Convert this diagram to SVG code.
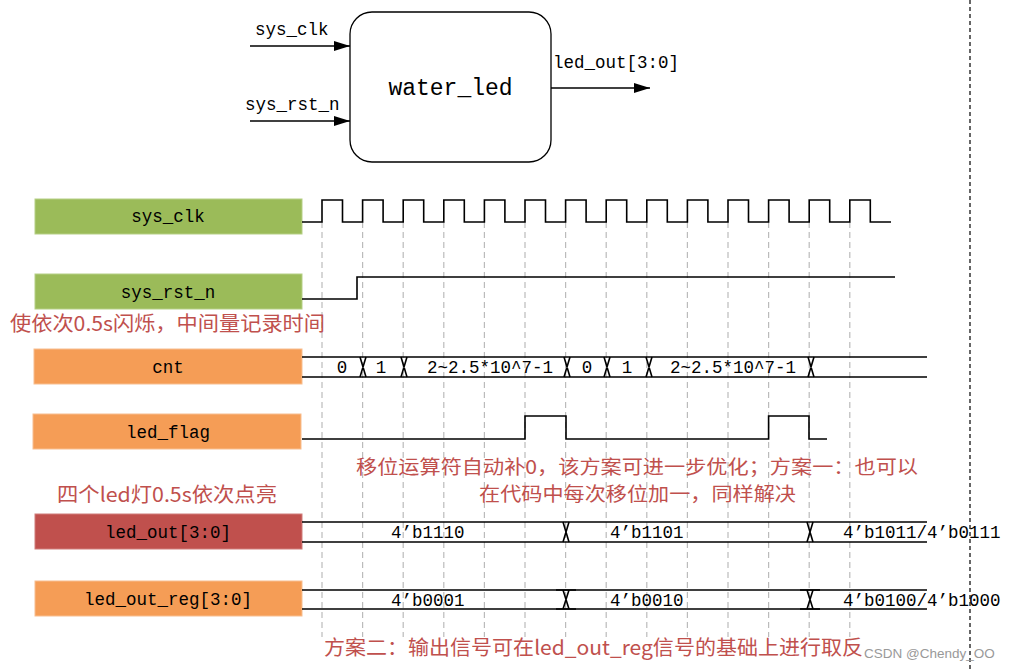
<svg xmlns="http://www.w3.org/2000/svg" width="1033" height="671" viewBox="0 0 1033 671">
<style>
.mono{font-family:"Liberation Mono","DejaVu Sans Mono",monospace;font-size:17.5px;fill:#000}
.cn{font-family:"Noto Sans CJK SC","Liberation Sans",sans-serif;font-size:20px;fill:#C0504D}
.wave{fill:none;stroke:#000;stroke-width:1.6}
.grid{stroke:#bbb;stroke-width:1.2;stroke-dasharray:6 4}
.green{fill:#9BBB59;stroke:#B5CF85;stroke-width:1}
.orange{fill:#F59D56;stroke:#F8BE8F;stroke-width:1}
.red{fill:#C0504D;stroke:#D07C7A;stroke-width:1}
</style>
<defs>
<marker id="arr" markerWidth="16" markerHeight="10" refX="16" refY="5" orient="auto" markerUnits="userSpaceOnUse">
<path d="M0,0 L16,5 L0,10 Z" fill="#000"/>
</marker>
</defs>
<rect width="1033" height="671" fill="#fff"/>

<g id="grid">
<line class="grid" x1="322" y1="222" x2="322" y2="637"/>
<line class="grid" x1="362.6" y1="222" x2="362.6" y2="637"/>
<line class="grid" x1="403.2" y1="222" x2="403.2" y2="637"/>
<line class="grid" x1="443.8" y1="222" x2="443.8" y2="637"/>
<line class="grid" x1="484.4" y1="222" x2="484.4" y2="637"/>
<line class="grid" x1="525" y1="222" x2="525" y2="637"/>
<line class="grid" x1="565.6" y1="222" x2="565.6" y2="637"/>
<line class="grid" x1="606.2" y1="222" x2="606.2" y2="637"/>
<line class="grid" x1="646.8" y1="222" x2="646.8" y2="637"/>
<line class="grid" x1="687.4" y1="222" x2="687.4" y2="637"/>
<line class="grid" x1="728" y1="222" x2="728" y2="637"/>
<line class="grid" x1="768.6" y1="222" x2="768.6" y2="637"/>
<line class="grid" x1="809.2" y1="222" x2="809.2" y2="637"/>
<line class="grid" x1="849.8" y1="222" x2="849.8" y2="637"/>
<line x1="970" y1="0" x2="970" y2="671" stroke="#000" stroke-width="1.2" stroke-dasharray="4 3"/>
</g>

<g id="water_led">
<rect x="350" y="12" width="201" height="150" rx="22" ry="22" fill="#fff" stroke="#000" stroke-width="1.3"/>
<text x="450.5" y="95" text-anchor="middle" class="mono" style="font-size:23px">water_led</text>
</g>

<g id="connectors">
<line x1="250" y1="46" x2="350" y2="46" stroke="#000" stroke-width="1.4" marker-end="url(#arr)"/>
<line x1="250" y1="121" x2="350" y2="121" stroke="#000" stroke-width="1.4" marker-end="url(#arr)"/>
<line x1="551" y1="88" x2="650" y2="88" stroke="#000" stroke-width="1.4" marker-end="url(#arr)"/>
</g>
<g id="port-labels">
<text x="255" y="35" class="mono">sys_clk</text>
<text x="245" y="110" class="mono">sys_rst_n</text>
<text x="553" y="68" class="mono">led_out[3:0]</text>
</g>

<g id="sig-sys_clk">
<rect x="35" y="199" width="267" height="35" class="green"/>
<text x="168" y="222" text-anchor="middle" class="mono">sys_clk</text>
<path class="wave" d="M302,222 H322 V200 H342.5 V222 H362.6 V200 H383.1 V222 H403.2 V200 H423.7 V222 H443.8 V200 H464.3 V222 H484.4 V200 H504.9 V222 H525 V200 H545.5 V222 H565.6 V200 H586.1 V222 H606.2 V200 H626.7 V222 H646.8 V200 H667.3 V222 H687.4 V200 H707.9 V222 H728 V200 H748.5 V222 H768.6 V200 H789.1 V222 H809.2 V200 H829.7 V222 H849.8 V200 H870.3 V222 H891"/>
</g>

<g id="sig-sys_rst_n">
<rect x="35" y="274" width="267" height="35" class="green"/>
<text x="168" y="298" text-anchor="middle" class="mono">sys_rst_n</text>
<path class="wave" d="M302,299 H357 V277 H895"/>
</g>

<text x="10" y="331" class="cn" textLength="315" lengthAdjust="spacingAndGlyphs">使依次0.5s闪烁，中间量记录时间</text>

<g id="sig-cnt">
<rect x="34" y="349" width="268" height="35" class="orange"/>
<text x="168" y="373" text-anchor="middle" class="mono">cnt</text>
<path class="wave" d="M302,357 H927 M302,377 H927"/>
<path class="wave" d="M360,357 L366,377 M366,357 L360,377 M401,357 L407,377 M407,357 L401,377 M564,357 L570,377 M570,357 L564,377 M604,357 L610,377 M610,357 L604,377 M646,357 L652,377 M652,357 L646,377 M808,357 L814,377 M814,357 L808,377"/>
<text x="342" y="373" text-anchor="middle" class="mono">0</text>
<text x="381" y="373" text-anchor="middle" class="mono">1</text>
<text x="427" y="373" class="mono">2~2.5*10^7-1</text>
<text x="587" y="373" text-anchor="middle" class="mono">0</text>
<text x="627" y="373" text-anchor="middle" class="mono">1</text>
<text x="670" y="373" class="mono">2~2.5*10^7-1</text>
</g>

<g id="sig-led_flag">
<rect x="33" y="414" width="268" height="35" class="orange"/>
<text x="168" y="438" text-anchor="middle" class="mono">led_flag</text>
<path class="wave" d="M302,439 H525 V416 H566 V439 H768.6 V416 H809 V439 H827"/>
</g>

<text x="356" y="474" class="cn" style="font-size:19px" textLength="562" lengthAdjust="spacingAndGlyphs">移位运算符自动补0，该方案可进一步优化；方案一：也可以</text>
<text x="479" y="501" class="cn" style="font-size:19px" textLength="317" lengthAdjust="spacingAndGlyphs">在代码中每次移位加一，同样解决</text>
<text x="57" y="502" class="cn" textLength="220" lengthAdjust="spacingAndGlyphs">四个led灯0.5s依次点亮</text>

<g id="sig-led_out">
<rect x="35" y="514" width="267" height="35" class="red"/>
<text x="168" y="538" text-anchor="middle" class="mono">led_out[3:0]</text>
<path class="wave" d="M302,522 H927 M302,542 H927"/>
<path class="wave" d="M563,522 L569,542 M569,522 L563,542 M807,522 L813,542 M813,522 L807,542"/>
<text x="391" y="538" class="mono">4’b1110</text>
<text x="610" y="538" class="mono">4’b1101</text>
<text x="843" y="538" class="mono">4’b1011/4’b0111</text>
</g>

<g id="sig-led_out_reg">
<rect x="35" y="581" width="267" height="35" class="orange"/>
<text x="168" y="605" text-anchor="middle" class="mono">led_out_reg[3:0]</text>
<path class="wave" d="M302,590 H927 M302,609 H927"/>
<path class="wave" d="M563,590 L569,609 M569,590 L563,609 M556,590 H576 M556,609 H576 M807,590 L813,609 M813,590 L807,609 M800,590 H820 M800,609 H820"/>
<text x="391" y="606" class="mono">4’b0001</text>
<text x="610" y="606" class="mono">4’b0010</text>
<text x="843" y="606" class="mono">4’b0100/4’b1000</text>
</g>

<text x="324" y="655" class="cn" textLength="539" lengthAdjust="spacingAndGlyphs">方案二：输出信号可在led_out_reg信号的基础上进行取反</text>
<text x="864" y="658" style="font-family:'Liberation Sans',sans-serif;font-size:13.5px;fill:#999">CSDN @Chendy_OO</text>
</svg>
